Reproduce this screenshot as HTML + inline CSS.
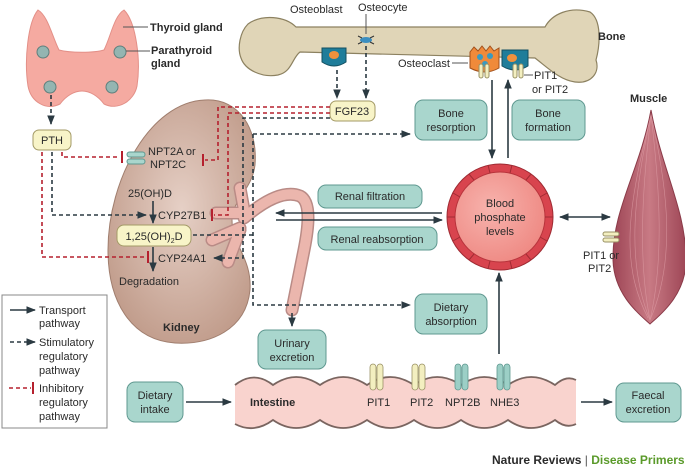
<!DOCTYPE html>
<html><head><meta charset="utf-8"><style>
html,body{margin:0;padding:0;background:#fff}
svg{display:block}
text{font-family:"Liberation Sans",sans-serif;font-size:11px;fill:#2a2a2a}
.b{font-weight:bold}
.bx{fill:#a9d6cd;stroke:#5f9890;stroke-width:1}
.yb{fill:#f8f4c8;stroke:#a39a66;stroke-width:1}
.tr{stroke:#2b3a42;stroke-width:1.6;fill:none}
.st{stroke:#2b3a42;stroke-width:1.6;fill:none;stroke-dasharray:4 3}
.in{stroke:#b5202e;stroke-width:1.6;fill:none;stroke-dasharray:4 3}
.tk{stroke:#b5202e;stroke-width:2}
</style></head><body>
<svg width="685" height="468" viewBox="0 0 685 468" xmlns="http://www.w3.org/2000/svg">
<defs>
<marker id="a" viewBox="0 0 10 10" refX="9" refY="5" markerWidth="6" markerHeight="6" orient="auto-start-reverse"><path d="M0 1 L10 5 L0 9 Z" fill="#2b3a42"/></marker>
<radialGradient id="kg" cx="0.5" cy="0.45" r="0.6"><stop offset="0" stop-color="#e6d0c6"/><stop offset="1" stop-color="#c09b8a"/></radialGradient>
<radialGradient id="bg" cx="0.4" cy="0.4" r="0.7"><stop offset="0" stop-color="#f7b3ad"/><stop offset="1" stop-color="#ee8680"/></radialGradient>
<linearGradient id="mg" x1="0" x2="1"><stop offset="0" stop-color="#9e4656"/><stop offset="0.5" stop-color="#c87a84"/><stop offset="1" stop-color="#9e4656"/></linearGradient>
</defs>

<!-- Thyroid -->
<path d="M38 10 C28 22 24 60 28 86 C31 102 46 111 60 104 C66 96 74 91 82 91 C90 91 98 96 104 104 C118 111 134 101 137 86 C141 60 136 22 124 10 C114 16 111 36 104 50 C94 53 70 53 59 50 C52 36 48 16 38 10 Z" fill="#f5aaa1" stroke="#e39088"/>
<g fill="#94b5b1" stroke="#5f7f7c"><circle cx="43" cy="52" r="6"/><circle cx="120" cy="52" r="6"/><circle cx="50" cy="87" r="6"/><circle cx="112" cy="87" r="6"/></g>
<line x1="123" y1="27" x2="148" y2="27" stroke="#555"/>
<line x1="126" y1="51" x2="150" y2="51" stroke="#555"/>
<text x="150" y="31" class="b">Thyroid gland</text>
<text x="151" y="54" class="b">Parathyroid</text>
<text x="151" y="67" class="b">gland</text>
<line x1="51" y1="95" x2="51" y2="124" class="st" marker-end="url(#a)"/>

<!-- Bone -->
<path d="M248 24 C262 14 285 16 296 27 L545 27 C552 14 570 6 590 12 C602 20 600 45 596 60 C600 72 592 84 575 82 C560 80 548 68 535 58 L300 52 C292 58 292 72 278 75 C262 78 245 70 241 58 C237 48 240 32 248 24 Z" fill="#e0d5b7" stroke="#8c8160" stroke-width="1.2"/>
<text x="290" y="13">Osteoblast</text>
<text x="358" y="11">Osteocyte</text>
<line x1="366" y1="14" x2="366" y2="34" stroke="#555"/>
<path d="M322 48 L346 48 L346 62 Q334 70 322 62 Z" fill="#1f7d9a" stroke="#134f60"/>
<ellipse cx="334" cy="55" rx="5" ry="4" fill="#f0913d"/>
<ellipse cx="366" cy="40" rx="6" ry="3" fill="#3b8ec0"/>
<path d="M358 36 L362 38 M374 36 L370 38 M358 44 L362 42 M374 44 L370 42" stroke="#333"/>
<line x1="337" y1="70" x2="337" y2="98" class="st" marker-end="url(#a)"/>
<line x1="366" y1="46" x2="366" y2="98" class="st" marker-end="url(#a)"/>
<rect x="330" y="101" width="45" height="20" rx="6" class="yb"/>
<text x="352" y="115" text-anchor="middle">FGF23</text>
<text x="598" y="40" class="b">Bone</text>
<text x="398" y="67">Osteoclast</text>
<line x1="452" y1="63" x2="468" y2="63" stroke="#555"/>
<path d="M470 52 L474 47 L478 51 L482 46 L486 51 L490 46 L494 51 L499 48 L499 68 Q485 76 470 68 Z" fill="#f08a3a" stroke="#a0501c"/>
<circle cx="480" cy="57" r="3" fill="#3a9ac0"/><circle cx="490" cy="56" r="3" fill="#3a9ac0"/><circle cx="485" cy="64" r="3" fill="#3a9ac0"/>
<path d="M502 50 L528 50 L528 66 Q515 74 502 66 Z" fill="#1f7d9a" stroke="#134f60"/>
<ellipse cx="512" cy="58" rx="5" ry="4" fill="#f0913d"/>
<g fill="#f3efc0" stroke="#9a9266"><rect x="479" y="64" width="4" height="14" rx="2"/><rect x="485" y="64" width="4" height="14" rx="2"/><rect x="513" y="64" width="4" height="14" rx="2"/><rect x="519" y="64" width="4" height="14" rx="2"/></g>
<line x1="524" y1="75" x2="533" y2="75" stroke="#555"/>
<text x="534" y="79">PIT1</text>
<text x="532" y="93">or PIT2</text>
<rect x="415" y="100" width="72" height="40" rx="8" class="bx"/>
<text x="451" y="117" text-anchor="middle">Bone</text><text x="451" y="131" text-anchor="middle">resorption</text>
<rect x="512" y="100" width="73" height="40" rx="8" class="bx"/>
<text x="548" y="117" text-anchor="middle">Bone</text><text x="548" y="131" text-anchor="middle">formation</text>
<line x1="492" y1="80" x2="492" y2="158" class="tr" marker-end="url(#a)"/>
<line x1="508" y1="158" x2="508" y2="80" class="tr" marker-end="url(#a)"/>

<!-- Blood -->
<circle cx="500" cy="217" r="53" fill="#d8444e" stroke="#9e2a32"/>
<circle cx="500" cy="217" r="45" fill="url(#bg)" stroke="#b8343c"/>
<g stroke="#a02c34" stroke-width="1">
<path d="M553 217 L545 217 M547 241 L540 237 M531 260 L526 254 M512 269 L510 261 M488 269 L490 261 M469 260 L474 254 M453 241 L460 237 M447 217 L455 217 M453 193 L460 197 M469 174 L474 180 M488 165 L490 173 M512 165 L510 173 M531 174 L526 180 M547 193 L540 197"/>
</g>
<text x="500" y="207" text-anchor="middle">Blood</text>
<text x="500" y="221" text-anchor="middle">phosphate</text>
<text x="500" y="235" text-anchor="middle">levels</text>

<!-- Muscle -->
<path d="M651 110 C640 170 612 210 613 260 C614 295 640 315 650 324 C660 315 686 295 686 260 C686 210 662 170 651 110 Z" fill="url(#mg)" stroke="#8a3a48"/>
<g stroke="#e0a0a8" stroke-width="0.6" fill="none" opacity="0.7">
<path d="M651 115 C635 190 625 260 650 320"/><path d="M651 115 C642 190 638 260 650 320"/><path d="M651 115 C660 190 664 260 650 320"/><path d="M651 115 C668 190 676 260 650 320"/><path d="M651 115 C630 200 618 260 648 318"/>
</g>
<text x="630" y="102" class="b">Muscle</text>
<line x1="560" y1="217" x2="610" y2="217" class="tr" marker-end="url(#a)" marker-start="url(#a)"/>
<g fill="#f3efc0" stroke="#9a9266"><rect x="603" y="232" width="16" height="4" rx="2"/><rect x="603" y="238" width="16" height="4" rx="2"/></g>
<text x="583" y="259">PIT1 or</text>
<text x="588" y="272">PIT2</text>

<!-- Kidney -->
<path d="M205 100 C240 98 258 130 255 165 C252 190 232 200 232 220 C232 245 252 258 250 290 C246 330 210 345 175 343 C130 340 108 300 108 250 C108 180 150 102 205 100 Z" fill="url(#kg)" stroke="#a07e6e"/>
<g stroke-linecap="round" fill="none">
<path d="M244 218 C265 200 285 190 300 196 C312 202 308 230 304 250 L292 310 M240 188 L244 210 M216 213 L240 213 M212 240 L240 228 M228 262 L240 230" stroke="#b98b86" stroke-width="13"/>
<path d="M244 218 C265 200 285 190 300 196 C312 202 308 230 304 250 L292 310 M240 188 L244 210 M216 213 L240 213 M212 240 L240 228 M228 262 L240 230" stroke="#ebb6ad" stroke-width="10"/>
</g>
<text x="148" y="155">NPT2A or</text>
<text x="150" y="168">NPT2C</text>
<g fill="#a9d6cd" stroke="#5f9890"><rect x="127" y="152" width="18" height="5" rx="2.5"/><rect x="127" y="159" width="18" height="5" rx="2.5"/></g>
<text x="128" y="197">25(OH)D</text>
<text x="158" y="219">CYP27B1</text>
<rect x="117" y="225" width="74" height="21" rx="7" class="yb"/>
<text x="154" y="240" text-anchor="middle">1,25(OH)<tspan font-size="7" dy="3">2</tspan><tspan dy="-3">D</tspan></text>
<text x="158" y="262">CYP24A1</text>
<text x="119" y="285">Degradation</text>
<text x="163" y="331" class="b">Kidney</text>
<line x1="153" y1="201" x2="153" y2="223" class="tr" marker-end="url(#a)" stroke-width="1.2"/>
<line x1="153" y1="247" x2="153" y2="271" class="tr" marker-end="url(#a)" stroke-width="1.2"/>

<!-- PTH -->
<rect x="33" y="130" width="38" height="20" rx="6" class="yb"/>
<text x="52" y="144" text-anchor="middle">PTH</text>
<path d="M42 152 V257 H146" class="in"/><line x1="148" y1="251" x2="148" y2="263" class="tk"/>
<path d="M52 152 V215 H146" class="st" marker-end="url(#a)"/>
<path d="M62 152 V157 H120" class="in"/><line x1="122" y1="151" x2="122" y2="163" class="tk"/>

<!-- FGF23 lines -->
<path d="M330 107 H218 V160 H205" class="in"/><line x1="203" y1="154" x2="203" y2="166" class="tk"/>
<path d="M330 113 H228 V215 H214" class="in"/><line x1="212" y1="209" x2="212" y2="221" class="tk"/>
<path d="M330 118 H243 V258 H214" class="st" marker-end="url(#a)"/>
<path d="M193 235 H253 M253 134 V305 H410" class="st" marker-end="url(#a)"/>
<path d="M253 134 H410" class="st" marker-end="url(#a)"/>

<!-- Renal -->
<rect x="318" y="185" width="104" height="23" rx="8" class="bx"/>
<text x="370" y="200" text-anchor="middle">Renal filtration</text>
<rect x="318" y="227" width="119" height="23" rx="8" class="bx"/>
<text x="377" y="243" text-anchor="middle">Renal reabsorption</text>
<line x1="442" y1="213" x2="276" y2="213" class="tr" marker-end="url(#a)"/>
<line x1="276" y1="220" x2="442" y2="220" class="tr" marker-end="url(#a)"/>

<line x1="292" y1="313" x2="292" y2="326" class="tr" marker-end="url(#a)" stroke-width="1.2"/>
<rect x="258" y="330" width="68" height="39" rx="8" class="bx"/>
<text x="292" y="347" text-anchor="middle">Urinary</text><text x="292" y="361" text-anchor="middle">excretion</text>
<rect x="415" y="294" width="72" height="40" rx="8" class="bx"/>
<text x="451" y="311" text-anchor="middle">Dietary</text><text x="451" y="325" text-anchor="middle">absorption</text>
<line x1="499" y1="354" x2="499" y2="273" class="tr" marker-end="url(#a)"/>

<!-- Legend -->
<rect x="2" y="295" width="105" height="133" fill="#fff" stroke="#888"/>
<line x1="10" y1="310" x2="35" y2="310" class="tr" marker-end="url(#a)"/>
<text x="39" y="314">Transport</text><text x="39" y="327">pathway</text>
<line x1="10" y1="342" x2="35" y2="342" class="st" marker-end="url(#a)"/>
<text x="39" y="346">Stimulatory</text><text x="39" y="360">regulatory</text><text x="39" y="374">pathway</text>
<line x1="9" y1="388" x2="31" y2="388" class="in"/><line x1="33" y1="382" x2="33" y2="394" class="tk"/>
<text x="39" y="392">Inhibitory</text><text x="39" y="406">regulatory</text><text x="39" y="420">pathway</text>

<!-- Intestine -->
<path d="M235 385 Q254 370 273 385 Q296 369 320 385 Q343 369 367 385 Q390 369 414 385 Q437 369 461 385 Q484 369 508 385 Q531 369 555 385 Q566 375 576 380 L576 424 Q566 429 555 420 Q531 436 508 420 Q484 436 461 420 Q437 436 414 420 Q390 436 367 420 Q343 436 320 420 Q296 436 273 420 Q254 434 235 424 Z" fill="#f9d3ce"/>
<path d="M235 385 Q254 370 273 385 Q296 369 320 385 Q343 369 367 385 Q390 369 414 385 Q437 369 461 385 Q484 369 508 385 Q531 369 555 385 Q566 375 576 380" fill="none" stroke="#7a6560" stroke-width="1.8"/>
<path d="M576 424 Q566 429 555 420 Q531 436 508 420 Q484 436 461 420 Q437 436 414 420 Q390 436 367 420 Q343 436 320 420 Q296 436 273 420 Q254 434 235 424" fill="none" stroke="#7a6560" stroke-width="1.8"/>
<g stroke-width="0.8"><g fill="#f3efc0" stroke="#9a9266"><rect x="370" y="364" width="6" height="26" rx="3"/><rect x="377" y="364" width="6" height="26" rx="3"/><rect x="412" y="364" width="6" height="26" rx="3"/><rect x="419" y="364" width="6" height="26" rx="3"/></g>
<g fill="#9ccfc6" stroke="#5f9890"><rect x="455" y="364" width="6" height="26" rx="3"/><rect x="462" y="364" width="6" height="26" rx="3"/><rect x="497" y="364" width="6" height="26" rx="3"/><rect x="504" y="364" width="6" height="26" rx="3"/></g></g>
<text x="250" y="406" class="b">Intestine</text>
<text x="367" y="406">PIT1</text><text x="410" y="406">PIT2</text><text x="445" y="406">NPT2B</text><text x="490" y="406">NHE3</text>
<rect x="127" y="382" width="56" height="40" rx="8" class="bx"/>
<text x="155" y="399" text-anchor="middle">Dietary</text><text x="155" y="413" text-anchor="middle">intake</text>
<line x1="186" y1="402" x2="231" y2="402" class="tr" marker-end="url(#a)"/>
<line x1="581" y1="402" x2="612" y2="402" class="tr" marker-end="url(#a)"/>
<rect x="616" y="383" width="65" height="39" rx="8" class="bx"/>
<text x="648" y="399" text-anchor="middle">Faecal</text><text x="648" y="413" text-anchor="middle">excretion</text>

<text x="492" y="464" class="b" style="font-size:12px">Nature Reviews <tspan style="fill:#555;font-weight:normal">|</tspan> <tspan style="fill:#5a9a2a">Disease Primers</tspan></text>
</svg>
</body></html>
